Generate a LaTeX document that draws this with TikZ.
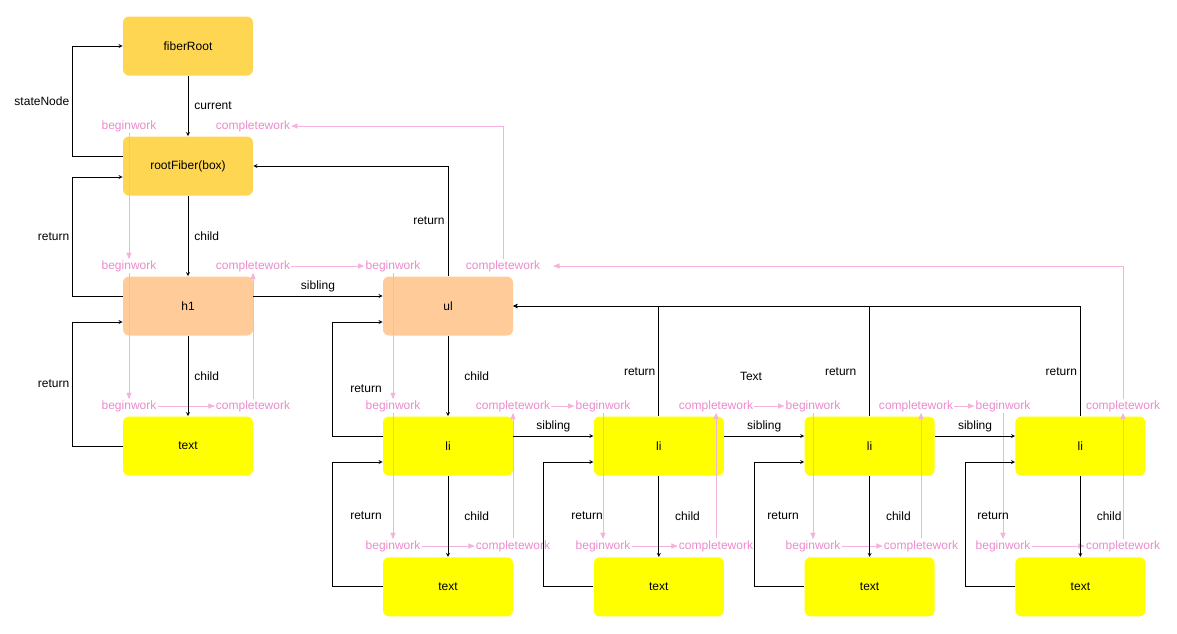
\documentclass[tikz,border=0pt]{standalone}
\usepackage{fontspec}
\setmainfont{Liberation Sans}
\usepackage{color}
\definecolor{mygold}{RGB}{255,214,82}
\definecolor{mypeach}{RGB}{255,204,153}
\definecolor{myyellow}{RGB}{255,255,0}
\definecolor{mypink}{RGB}{236,138,204}
\definecolor{mypinkline}{RGB}{244,178,220}
\usepackage{tikz}
\usetikzlibrary{arrows,positioning,calc}
\tikzstyle{fiber}=[rounded corners=6pt,minimum width=130pt,minimum height=59pt,inner sep=0pt,font=\fontsize{12}{14}\selectfont]
\tikzstyle{work}=[text=mypink,inner sep=1pt,font=\fontsize{12}{14}\selectfont]
\tikzstyle{lbl}=[inner sep=0pt,font=\fontsize{12}{14}\selectfont]
\tikzstyle{flow}=[draw=mypinkline,->,>=triangle 45]
\begin{document}
\begin{tikzpicture}[x=1pt,y=-1pt,->,>=stealth,thick]
\useasboundingbox (0,0) rectangle (1177,633);
% fibers
\node [fiber,fill=mygold] (fiberRoot) at (188,46) {fiberRoot};
\node [fiber,fill=mygold] (rootFiber) at (188,166) {rootFiber(box)};
\node [fiber,fill=mypeach] (h1) at (188,306) {h1};
\node [fiber,fill=myyellow] (t0) at (188,446) {text};
\node [fiber,fill=mypeach] (ul) at (448,306) {ul};
\node [fiber,fill=myyellow] (li1) at (448,446) {li};
\node [fiber,fill=myyellow] (li2) [right=80pt of li1] {li};
\node [fiber,fill=myyellow] (li3) [right=80pt of li2] {li};
\node [fiber,fill=myyellow] (li4) [right=80pt of li3] {li};
\foreach \i in {1,...,4}
  \node [fiber,fill=myyellow] (t\i) [below=81pt of li\i] {text};
% work labels
\node [work] (bwRoot) at (129,126) {beginwork};
\node [work] (cwRoot) at (253,126) {completework};
\node [work] (bwH1) at (129,266) {beginwork};
\node [work] (cwH1) at (253,266) {completework};
\node [work] (bwT0) at (129,406) {beginwork};
\node [work] (cwT0) at (253,406) {completework};
\node [work] (bwUl) at (393,266) {beginwork};
\node [work] (cwUl) at (503,266) {completework};
\node [work] (bwLi1) at (393,406) {beginwork};
\node [work] (cwLi1) at (513,406) {completework};
\node [work] (bwT1) at (393,546) {beginwork};
\node [work] (cwT1) at (513,546) {completework};
\node [work] (bwLi2) at (603,406) {beginwork};
\node [work] (cwLi2) at (716,406) {completework};
\node [work] (bwT2) at (603,546) {beginwork};
\node [work] (cwT2) at (716,546) {completework};
\node [work] (bwLi3) at (813,406) {beginwork};
\node [work] (cwLi3) at (916,406) {completework};
\node [work] (bwT3) at (813,546) {beginwork};
\node [work] (cwT3) at (921,546) {completework};
\node [work] (bwLi4) at (1003,406) {beginwork};
\node [work] (cwLi4) at (1123,406) {completework};
\node [work] (bwT4) at (1003,546) {beginwork};
\node [work] (cwT4) at (1123,546) {completework};
% work flow
\begin{scope}[thin]
\draw[flow] (bwRoot) -- (bwH1);
\draw[flow] (bwH1) -- (bwT0);
\draw[flow] (bwT0) -- (cwT0);
\draw[flow] (cwT0) -- (cwH1);
\draw[flow] (cwH1) -- (bwUl);
\draw[flow] (bwUl) -- (bwLi1);
\draw[flow] (cwUl.north) |- (cwRoot.east);
\foreach \i/\j in {1/2,2/3,3/4} {
  \draw[flow] (bwLi\i) -- (bwT\i);
  \draw[flow] (bwT\i) -- (cwT\i);
  \draw[flow] (cwLi\i.south -| cwT\i.north) ++(0,125) -- (cwLi\i.south -| cwT\i.north);
  \draw[flow] (cwLi\i) -- (bwLi\j);
}
\draw[flow] (bwLi4) -- (bwT4);
\draw[flow] (bwT4) -- (cwT4);
\draw[flow] (cwT4) -- (cwLi4);
\draw[flow] (cwLi4.north) |- ([xshift=12pt]cwUl.east);
\end{scope}
% links
\draw (fiberRoot) -- node [lbl,right=6pt] {current} (rootFiber);
\draw (rootFiber) -- node [lbl,right=6pt] {child} (h1);
\draw (h1) -- node [lbl,right=6pt] {child} (t0);
\draw (ul) -- node [lbl,right=16pt] {child} (li1);
\foreach \i in {1,...,4}
  \draw (li\i) -- node [lbl,right=16pt] {child} (t\i);
\draw ([yshift=10pt]h1.east) -- node [lbl,above=4pt] {sibling} ([yshift=10pt]ul.west);
\foreach \i/\j in {1/2,2/3,3/4}
  \draw ([yshift=10pt]li\i.east) -- node [lbl,above=4pt] {sibling} ([yshift=10pt]li\j.west);
\draw ([yshift=10pt]rootFiber.west) -- ++(-50,0) |- node [lbl,pos=0.25,left=3pt] {stateNode} (fiberRoot.west);
\draw ([yshift=10pt]h1.west) -- ++(-50,0) |- node [lbl,pos=0.25,left=3pt] {return} ([yshift=-11pt]rootFiber.west);
\draw (t0.west) -- ++(-50,0) |- node [lbl,pos=0.25,left=3pt] {return} ([yshift=-16pt]h1.west);
\draw (ul.north) |- node [lbl,pos=0.25,left=3pt] {return} (rootFiber.east);
\draw ([yshift=10pt]li1.west) -- ++(-50,0) |- ([yshift=-16pt]ul.west);
\node [lbl] (r1) at (366,389) {return};
\foreach \i in {1,...,4}
  \draw (t\i.west) -- ++(-50,0) |- ([yshift=-16pt]li\i.west);
\node [lbl] (r2) at (366,516) {return};
\node [lbl] (r3) at (587,516) {return};
\node [lbl] (r4) at (783,516) {return};
\node [lbl] (r5) at (993,516) {return};
\draw (li2.north) |- node [lbl,pos=0.2,left=3pt] {return} (ul.east);
\draw (li3.north) |- node [lbl,pos=0.2,right=-45pt] {return} (ul.east);
\draw (li4.north) |- node [lbl,pos=0.2,left=3pt] {return} (ul.east);
\node [lbl] (txt) at (751,376) {Text};
\end{tikzpicture}
\end{document}
